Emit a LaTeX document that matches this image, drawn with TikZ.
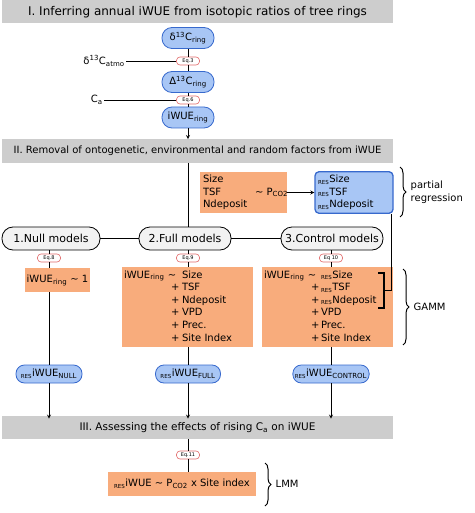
\documentclass[tikz,border=0pt]{standalone}
\usepackage{fontspec}
\setmainfont{DejaVu Sans}
\usetikzlibrary{calc,decorations.pathreplacing}
\definecolor{bandgray}{RGB}{205,205,205}
\definecolor{pillblue}{RGB}{168,198,245}
\definecolor{pillline}{RGB}{55,105,205}
\definecolor{peach}{RGB}{248,172,124}
\definecolor{modelgray}{RGB}{242,242,242}
\definecolor{eqred}{RGB}{225,105,105}
\newcommand{\rs}{\textsubscript{\fontsize{5.5}{6}\selectfont RES}}

\begin{document}
\begin{tikzpicture}[x=1pt,y=-1pt,line width=0.8pt,
    font=\fontsize{10}{12.6}\selectfont,
    band/.style={fill=bandgray,minimum width=391pt,minimum height=23pt,inner sep=0pt},
    pill/.style={draw=pillline,fill=pillblue,thick,rounded corners=10pt,minimum height=21pt,inner xsep=4pt},
    smallpill/.style={pill,minimum height=18pt,rounded corners=8.5pt,inner xsep=2pt},
    eqtag/.style={draw=eqred,fill=white,line width=0.6pt,rounded corners=3.5pt,font=\fontsize{5}{5.5}\selectfont,minimum width=23pt,minimum height=8pt,inner sep=0.5pt},
    model/.style={draw,fill=modelgray,rounded corners=11pt,minimum height=23pt,font=\fontsize{11}{13}\selectfont},
    formula/.style={fill=peach,inner sep=2pt},
    resbox/.style={draw=pillline,fill=pillblue,line width=1.3pt,rounded corners=4pt,align=left,minimum width=78pt,minimum height=41pt,text width=72pt,inner xsep=3pt},
    curly/.style={decorate,decoration={brace,amplitude=6pt},line width=1pt},
    bracelabel/.style={anchor=west,align=left}]
    \useasboundingbox (0,0) rectangle (474,513);

    \node[band,font=\fontsize{12}{14}\selectfont] (secI) at (197.5,12) {I. Inferring annual iWUE from isotopic ratios of tree rings};
    \node[pill,minimum width=52pt] (dring) at (188,38) {δ\textsuperscript{13}C\textsubscript{ring}};
    \node[eqtag] (eq3) at (188,61) {Eq.3};
    \node[pill,minimum width=52pt] (Dring) at (188,82) {Δ\textsuperscript{13}C\textsubscript{ring}};
    \node[eqtag] (eq6) at (188,100) {Eq.6};
    \node[pill,minimum width=52pt] (iring) at (188,117.5) {iWUE\textsubscript{ring}};
    \node[anchor=east,inner sep=1pt] (datmo) at (126,61) {δ\textsuperscript{13}C\textsubscript{atmo}};
    \node[anchor=east,inner sep=1pt] (ca) at (104,100) {C\textsubscript{a}};

    \draw (dring) -- (eq3) -- (Dring) -- (eq6) -- (iring);
    \draw (datmo) -- (eq3);
    \draw (ca) -- (eq6);

    \node[band] (secII) at (197.5,151) {II. Removal of ontogenetic, environmental and random factors from iWUE};
    \draw[-stealth] (iring) -- (iring |- secII.north);

    \node[formula,minimum width=87pt,minimum height=41pt,text width=81pt,inner xsep=3pt] (partial) at (243.5,192.5)
        {\begin{tabular}{@{}p{52pt}@{}l@{}}Size&\\TSF&\textasciitilde{} P\textsubscript{CO2}\\Ndeposit&\end{tabular}};
    \node[resbox] (resvars) at (354,192.5) {\rs Size\\\rs TSF\\\rs Ndeposit};
    \draw[-stealth] (partial) -- (resvars);
    \draw[curly] (400,167) -- (400,217);
    \node[bracelabel] (plabel) at (407,192) {partial\\regression};

    \node[model,minimum width=98pt] (null) at (51,238.5) {1.Null models};
    \node[model,minimum width=92pt] (full) at (185,238.5) {2.Full models};
    \node[model,minimum width=102pt] (control) at (332,238.5) {3.Control models};
    \draw (null) -- (full) -- (control);

    \node[eqtag] (eq8) at (49,258) {Eq.8};
    \node[eqtag] (eq9) at (188,258) {Eq.9};
    \node[eqtag] (eq10) at (331,258) {Eq 10};
    \draw (secII.south -| eq9) -- (eq9 |- full.north);

    \node[formula,minimum width=65pt,minimum height=24pt] (nullf) at (57.5,280)
        {iWUE\textsubscript{ring} \textasciitilde{} 1};
    \node[formula,minimum width=131pt,minimum height=78pt,text width=127pt] (fullf) at (187.5,307)
        {\begin{tabular}{@{}p{47pt}@{}p{11pt}@{}l@{}}
        \leavevmode\rlap{iWUE\textsubscript{ring} \textasciitilde} & & Size\\
        & + & TSF\\
        & + & Ndeposit\\
        & + & VPD\\
        & + & Prec.\\
        & + & Site Index
        \end{tabular}};
    \node[formula,minimum width=131pt,minimum height=78pt,text width=127pt] (ctrlf) at (327.5,307)
        {\begin{tabular}{@{}p{47pt}@{}p{10pt}@{}l@{}}
        \leavevmode\rlap{iWUE\textsubscript{ring} \textasciitilde} & & \rs Size\\
        & + & \rs TSF\\
        & + & \rs Ndeposit\\
        & + & VPD\\
        & + & Prec.\\
        & + & Site Index
        \end{tabular}};
    \draw[curly] (403,269) -- (403,345);
    \node[bracelabel] (glabel) at (410,307) {GAMM};

    \coordinate (tap) at (391,290);
    \coordinate (brk) at (384,290);
    \draw (tap |- resvars.south) -- (tap) -- (brk);
    \draw[line width=1.1pt] (378,273) -- (384,273) -- (384,308) -- (378,308);

    \node[smallpill,minimum width=66pt] (resnull) at (49,374) {\rs iWUE\textsubscript{NULL}};
    \node[smallpill,minimum width=65pt] (resfull) at (188,374) {\rs iWUE\textsubscript{FULL}};
    \node[smallpill,minimum width=76pt] (resctrl) at (331,374) {\rs iWUE\textsubscript{CONTROL}};

    \draw (null.south -| eq8) -- (eq8) -- (eq8 |- nullf.north);
    \draw (full.south -| eq9) -- (eq9) -- (eq9 |- fullf.north);
    \draw (control.south -| eq10) -- (eq10) -- (eq10 |- ctrlf.north);
    \draw (resnull |- nullf.south) -- (resnull);
    \draw (resfull |- fullf.south) -- (resfull);
    \draw (resctrl |- ctrlf.south) -- (resctrl);

    \node[band,font=\fontsize{10.5}{12.6}\selectfont] (secIII) at (197.5,427.5) {III. Assessing the effects of rising C\textsubscript{a} on iWUE};
    \draw[-stealth] (resnull) -- ([yshift=-3pt]secIII.north -| resnull);
    \draw[-stealth] (resfull) -- ([yshift=-3pt]secIII.north -| resfull);
    \draw[-stealth] (resctrl) -- ([yshift=-3pt]secIII.north -| resctrl);

    \node[eqtag] (eq11) at (188,455) {Eq.11};
    \node[formula,minimum width=148pt,minimum height=24pt] (final) at (182,484)
        {\rs iWUE \textasciitilde{} P\textsubscript{CO2} x Site index};
    \draw (secIII.south -| eq11) -- (eq11) -- (eq11 |- final.north);
    \draw[curly] (265,463) -- (265,506);
    \node[bracelabel] (llabel) at (272,484) {LMM};
\end{tikzpicture}
\end{document}
